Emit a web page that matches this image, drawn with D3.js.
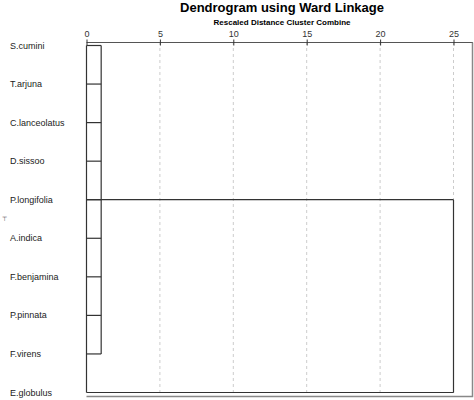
<!DOCTYPE html><html><head><meta charset="utf-8"><script src="https://cdn.jsdelivr.net/npm/d3@7"></script>
<style>body{margin:0;background:#fff}text{font-family:"Liberation Sans",Arial,sans-serif}</style></head><body><svg id="c" width="474" height="400"></svg>
<script>
const leaves=["S.cumini","T.arjuna","C.lanceolatus","D.sissoo","P.longifolia","A.indica","F.benjamina","P.pinnata","F.virens","E.globulus"];
const clusterA=["S.cumini","T.arjuna","C.lanceolatus","D.sissoo","P.longifolia","A.indica","F.benjamina","P.pinnata","F.virens"];
const heightA=1;
const clusterRep="P.longifolia";
const heightAll=25;
const ticks=[0,5,10,15,20,25];
const svg=d3.select("#c");
const x=d3.scaleLinear().domain([0,25]).range([86.5,453.5]);
const y=d3.scalePoint().domain(leaves).range([45.5,392.5]);
svg.append("text").attr("x",282).attr("y",12).attr("text-anchor","middle").attr("font-size",13).attr("font-weight","bold").text("Dendrogram using Ward Linkage");
svg.append("text").attr("x",282).attr("y",25).attr("text-anchor","middle").attr("font-size",8).attr("font-weight","bold").text("Rescaled Distance Cluster Combine");
const g=svg.append("g");
ticks.slice(1).forEach(t=>g.append("line").attr("x1",x(t)).attr("x2",x(t)).attr("y1",42).attr("y2",396).attr("stroke","#ccc").attr("stroke-dasharray","3,3"));
const ax=svg.append("g").attr("transform","translate(0,42.5)").call(d3.axisTop(x).tickValues(ticks).tickSize(4).tickPadding(2));
ax.select(".domain").attr("stroke","#555").attr("d",`M${x(0)},0H473`);
ax.selectAll(".tick line").attr("stroke","#333").attr("y2",3).attr("y1",-3);
ax.selectAll("text").attr("font-size",9).attr("fill","#333").attr("font-family","Liberation Sans, Arial");
svg.append("path").attr("d",`M472.5,42.5V396.5H${x(0)}`).attr("fill","none").attr("stroke","#888").attr("stroke-width",1.5);
leaves.forEach(l=>svg.append("text").attr("x",10).attr("y",y(l)+3).attr("font-size",9).attr("fill","#222").text(l));
svg.append("text").attr("x",2).attr("y",221).attr("font-size",6).attr("fill","#444").text("⊤");
const st={"stroke":"#333","stroke-width":1.2,"fill":"none"};
function line(x1,y1,x2,y2){const p=svg.append("line").attr("x1",x1).attr("y1",y1).attr("x2",x2).attr("y2",y2);Object.entries(st).forEach(([k,v])=>p.attr(k,v));}
line(x(0),y(leaves[0]),x(0),y(leaves[leaves.length-1]));
clusterA.forEach(l=>line(x(0),y(l),x(heightA),y(l)));
line(x(heightA),y(clusterA[0]),x(heightA),y(clusterA[clusterA.length-1]));
line(x(0),y(clusterRep),x(heightAll),y(clusterRep));
line(x(heightAll),y(clusterRep),x(heightAll),y("E.globulus"));
line(x(0),y("E.globulus"),x(heightAll),y("E.globulus"));
</script></body></html>
